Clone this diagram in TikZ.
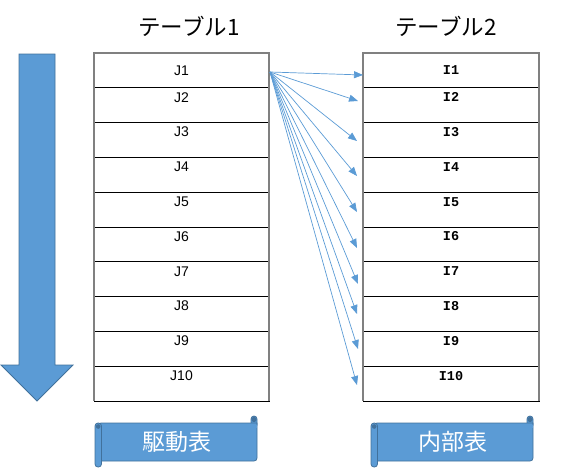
\documentclass[tikz,border=0pt]{standalone}
\usepackage{fontspec}
\newfontfamily\jpfont{Noto Sans CJK JP}
\newfontfamily\jfont{Liberation Sans}
\newfontfamily\ifont{Liberation Mono}
\usetikzlibrary{arrows.meta,calc}
\definecolor{blu}{HTML}{5B9BD5}
\definecolor{bludark}{HTML}{41719C}
\definecolor{grayedge}{HTML}{808080}
\tikzset{
  cellbox/.style={draw=black,line width=0.8pt,minimum width=175pt,minimum height=34.8pt,inner sep=0pt,outer sep=0pt},
  jlab/.style={font=\jfont\fontsize{14}{14}\selectfont,inner sep=0pt},
  ilab/.style={font=\ifont\bfseries\fontsize{13.5}{13.5}\selectfont,inner sep=0pt},
  title/.style={font=\jpfont\fontsize{22.5}{22.5}\selectfont,inner sep=0pt},
  scrolltxt/.style={font=\jpfont\fontsize{23}{23}\selectfont,text=white,inner sep=0pt},
  link/.style={draw=blu,line width=0.7pt,-{Triangle[length=9pt,width=7pt]}},
  shapefill/.style={fill=blu,draw=bludark,line width=0.8pt},
}
\begin{document}
\begin{tikzpicture}[x=1pt,y=-1pt]
\useasboundingbox (0,0) rectangle (561,469);
% titles
\node[title] (t1) at (189,26) {テーブル1};
\node[title] (t2) at (446,26) {テーブル2};
% big arrow
\path[shapefill] (19,54) -- (55,54) -- (55,365) -- (73,365) -- (37,401) -- (1,365) -- (19,365) -- cycle;
% tables
\foreach \i in {1,...,10}{
  \node[cellbox] (a\i) at (181.5,{53+34.8*(\i-0.5)}) {};
  \node[cellbox,minimum width=176pt] (b\i) at (451,{53+34.8*(\i-0.5)}) {};
}
\foreach \i in {2,...,10}{
  \node[jlab] (la\i) at ($(a\i.north)+(0,9.5)$) {J\i};
  \node[ilab] (lb\i) at ($(b\i.north)+(0,9.5)$) {I\i};
}
\node[jlab] (la1) at (a1.center) {J1};
\node[ilab] (lb1) at (b1.center) {I1};
% outer gray edges
\draw[grayedge,line width=1.4pt] (a10.south west) -- (a1.north west) -- (a1.north east) -- (a10.south east);
\draw[grayedge,line width=1.4pt] (b10.south west) -- (b1.north west) -- (b1.north east) -- (b10.south east);
% arrow tips
\coordinate (src) at (270,72);
\coordinate (e1) at (363,75);
\coordinate (e2) at (358,101);
\coordinate (e3) at (357,141);
\coordinate (e4) at (357,176);
\coordinate (e5) at (357,212);
\coordinate (e6) at (357,248);
\coordinate (e7) at (358,284);
\coordinate (e8) at (357,314);
\coordinate (e9) at (358,349);
\coordinate (e10) at (357,385);
\foreach \i in {1,...,10}{ \draw[link] (src) -- (e\i); }
% scrolls
\foreach \dx/\txt/\nm in {0/駆動表/s1,276/内部表/s2}{
  \begin{scope}[xshift=\dx pt]
    \path[shapefill,rounded corners=3pt] (251,416) rectangle (257,428);
    \path[shapefill] (98,423) -- (257,423) -- (257,458) [rounded corners=3pt] -- (257,461) -- (98,461) -- cycle;
    \fill[blu] (252,424.5) rectangle (256.5,428);
    \path[fill=bludark] (254,419.5) circle (2.6pt);
    \path[shapefill,rounded corners=3pt] (95,423) rectangle (101.5,467);
    \path[fill=bludark] (98.2,426.5) circle (2.3pt);
    \node[scrolltxt] (\nm) at (177,442) {\txt};
  \end{scope}
}
\end{tikzpicture}
\end{document}
